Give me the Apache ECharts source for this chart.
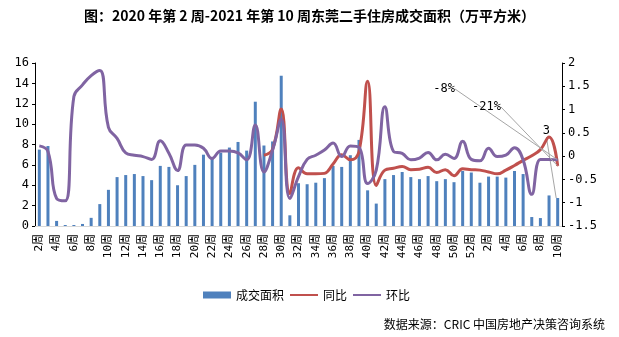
<!DOCTYPE html>
<html><head><meta charset="utf-8">
<script src="https://cdn.jsdelivr.net/npm/echarts@6/dist/echarts.min.js"></script>
<style>html,body{margin:0;padding:0;background:#fff}#c{width:619px;height:337px}</style>
</head><body><div id="c"></div>
<script>
// categories: 2020 weeks 2..52, 2021 weeks 1..10
const categories = [
 '2周','3周','4周','5周','6周','7周','8周','9周','10周','11周',
 '12周','13周','14周','15周','16周','17周','18周','19周','20周','21周',
 '22周','23周','24周','25周','26周','27周','28周','29周','30周','31周',
 '32周','33周','34周','35周','36周','37周','38周','39周','40周','41周',
 '42周','43周','44周','45周','46周','47周','48周','49周','50周','51周',
 '52周',
 '1周','2周','3周','4周','5周','6周','7周','8周','9周','10周'
];
// 成交面积 (万平方米)
const area = [
 7.5,7.85,0.5,0.1,0.1,0.2,0.8,2.15,3.55,4.8,
 5.0,5.1,4.9,4.5,5.9,5.8,4.0,4.9,6.0,7.0,
 6.6,7.2,7.7,8.25,7.4,12.2,7.9,8.3,14.75,1.05,
 4.2,4.1,4.25,4.7,5.9,5.8,6.95,8.45,3.5,2.2,
 4.6,5.0,5.3,4.8,4.6,4.9,4.4,4.6,4.3,5.4,
 5.25,
 4.25,4.85,4.85,4.75,5.4,5.1,0.88,0.78,3.0,2.75
];
// 同比
const yoy = [
 null,null,null,null,null,null,null,null,null,null,
 null,null,null,null,null,null,null,null,null,null,
 null,null,null,null,null,null,0.02,0.15,1.01,-0.8,
 -0.25,-0.38,-0.38,-0.37,-0.17,0.03,-0.08,0.1,1.61,-0.63,
 -0.3,-0.26,-0.22,-0.29,-0.28,-0.24,-0.35,-0.29,-0.42,-0.27,
 -0.29,
 -0.3,-0.34,-0.38,-0.3,-0.2,-0.09,0.01,0.14,0.41,-0.21
];
// 环比
const mom = [
 0.22,0.1,-0.91,-0.96,1.28,1.53,1.73,1.84,0.62,0.38,
 0.07,0.02,-0.01,-0.07,0.33,0.06,-0.31,0.24,0.24,0.17,
 -0.05,0.11,0.11,0.07,-0.08,0.67,-0.34,0.13,0.79,-0.91,
 -0.44,-0.07,0.02,0.13,0.28,-0.01,0.22,0.19,-0.59,-0.3,
 1.06,0.1,0.06,-0.08,-0.04,0.08,-0.08,0.04,-0.05,0.32,
 -0.07,
 -0.1,0.17,-0.01,0.02,0.18,-0.08,-0.82,-0.07,-0.07,-0.08
];
const leftTicks = {min:0, max:16, interval:2};
const rightTicks = {min:-1.5, max:2, interval:0.5};

const last = categories.length - 1;
const numFont = "'DejaVu Sans Mono','Noto Sans CJK SC',monospace";
const cjkFont = "'Noto Sans CJK SC',sans-serif";
const pct = v => Math.round(v*100) + '%';
// thin line legend icon inside a 28x7 box (move-to points set the box)
const lineIcon = 'path://M0,0 M0,2.5 L28,2.5 L28,4.5 L0,4.5 Z M28,7';

function withLastLabel(arr, fmt, extra){
  return arr.map((v,i)=> i===last ? Object.assign({value:v, label:{show:true, formatter:()=>fmt(v)}}, extra||{}) : v);
}

const chart = echarts.init(document.getElementById('c'), null, {renderer:'canvas'});
chart.setOption({
  animation:false,
  backgroundColor:'#fff',
  title:[
    {text:'图：2020 年第 2 周-2021 年第 10 周东莞二手住房成交面积（万平方米）', left:'center', top:4,
     textStyle:{fontSize:14, fontWeight:'bold', color:'#000', fontFamily:cjkFont}},
    {text:'数据来源：CRIC 中国房地产决策咨询系统', right:9, top:313,
     textStyle:{fontSize:12, fontWeight:'normal', color:'#000', fontFamily:cjkFont}}
  ],
  legend:{
    left:198, top:284, itemWidth:28, itemHeight:7, itemGap:6,
    textStyle:{fontSize:12, color:'#000', fontFamily:cjkFont},
    data:[{name:'成交面积', icon:'rect'}, {name:'同比', icon:lineIcon}, {name:'环比', icon:lineIcon}]
  },
  grid:{left:35, right:57, top:63, bottom:111, containLabel:false},
  xAxis:{
    type:'category', data:categories, boundaryGap:true,
    axisLine:{lineStyle:{color:'#d9d9d9', width:1}},
    axisTick:{show:false},
    axisLabel:{interval:1, rotate:90, margin:8, fontSize:11, color:'#000', fontFamily:numFont}
  },
  yAxis:[
    {type:'value', min:leftTicks.min, max:leftTicks.max, interval:leftTicks.interval,
     splitLine:{show:false},
     axisLine:{show:true, lineStyle:{color:'#000'}},
     axisTick:{show:true, length:3, lineStyle:{color:'#000'}},
     axisLabel:{fontSize:12, color:'#000', margin:6, fontFamily:numFont}},
    {type:'value', position:'right', min:rightTicks.min, max:rightTicks.max, interval:rightTicks.interval,
     splitLine:{show:false},
     axisLine:{show:true, lineStyle:{color:'#000'}},
     axisTick:{show:true, length:3, lineStyle:{color:'#000'}},
     axisLabel:{fontSize:12, color:'#000', margin:6, fontFamily:numFont}}
  ],
  series:[
    {name:'成交面积', type:'bar', yAxisIndex:0, barWidth:3,
     itemStyle:{color:'#4F81BD'},
     data: withLastLabel(area, v=>String(Math.round(v))),
     label:{show:false, color:'#000', fontSize:12, fontFamily:numFont},
     labelLine:{show:true, lineStyle:{color:'#a6a6a6', width:1}},
     labelLayout:function(p){ if(p.dataIndex===last) return {x:550, y:131, align:'right', verticalAlign:'middle'}; }
    },
    {name:'同比', type:'line', yAxisIndex:1, smooth:0.45, connectNulls:false,
     symbol:'none', showSymbol:true,
     lineStyle:{color:'#C0504D', width:3}, itemStyle:{color:'#C0504D'},
     data: withLastLabel(yoy, pct, {symbol:'circle', symbolSize:1}),
     label:{show:false, color:'#000', fontSize:12, fontFamily:numFont},
     labelLine:{show:true, lineStyle:{color:'#a6a6a6', width:1}},
     labelLayout:function(p){ if(p.dataIndex===last) return {x:501, y:107, align:'right', verticalAlign:'middle'}; }
    },
    {name:'环比', type:'line', yAxisIndex:1, smooth:0.45,
     symbol:'none', showSymbol:true,
     lineStyle:{color:'#8064A2', width:3}, itemStyle:{color:'#8064A2'},
     data: withLastLabel(mom, pct, {symbol:'circle', symbolSize:1}),
     label:{show:false, color:'#000', fontSize:12, fontFamily:numFont},
     labelLine:{show:true, lineStyle:{color:'#a6a6a6', width:1}},
     labelLayout:function(p){ if(p.dataIndex===last) return {x:455, y:89, align:'right', verticalAlign:'middle'}; }
    }
  ]
});
</script>
</body></html>
